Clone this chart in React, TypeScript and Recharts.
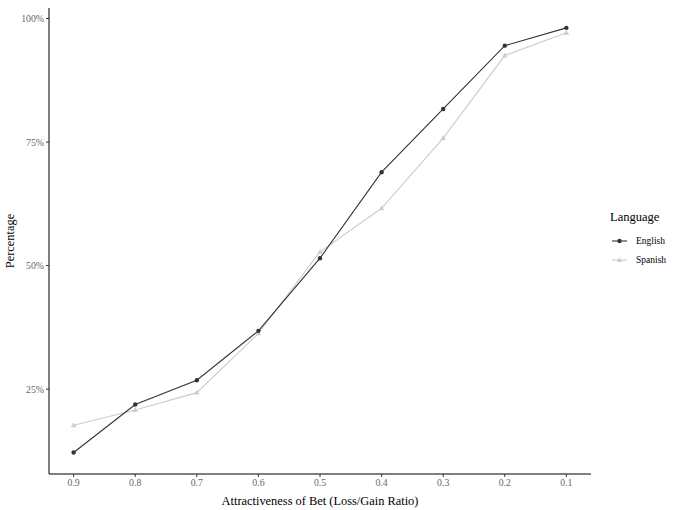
import React from "react";
import { CartesianGrid, Label, Legend, Line, LineChart, XAxis, YAxis } from "recharts";

// loss/gain ratio (reversed)
const ratios = [0.9, 0.8, 0.7, 0.6, 0.5, 0.4, 0.3, 0.2, 0.1];
const english = [12.2, 21.9, 26.8, 36.8, 51.5, 68.9, 81.7, 94.5, 98.1];
const spanish = [17.7, 20.8, 24.3, 36.3, 52.8, 61.6, 75.8, 92.5, 97.1];
const yTicks = [25, 50, 75, 100];

const series = [
  { key: "English", color: "#333333", shape: "circle" },
  { key: "Spanish", color: "#CCCCCC", shape: "triangle" },
];

const data = ratios.map((r, i) => ({
  ratio: r,
  English: english[i],
  Spanish: spanish[i],
}));

const FONT = '"Liberation Serif", "Times New Roman", serif';

const CircleDot = (props: any) => {
  const { cx, cy, stroke } = props;
  if (cx == null || cy == null) return null;
  return <circle cx={cx} cy={cy} r={2.2} fill={stroke} stroke="none" />;
};

const TriangleDot = (props: any) => {
  const { cx, cy, stroke } = props;
  if (cx == null || cy == null) return null;
  const s = 2.8;
  const pts = `${cx},${cy - s} ${cx - s},${cy + s * 0.7} ${cx + s},${cy + s * 0.7}`;
  return <polygon points={pts} fill={stroke} stroke="none" />;
};

const renderLegend = () => (
  <div style={{ fontFamily: FONT, color: "#000" }}>
    <div style={{ fontSize: 12.5, marginBottom: 6 }}>Language</div>
    {series.map((s) => (
      <div
        key={s.key}
        style={{ display: "flex", alignItems: "center", height: 19, fontSize: 9.5 }}
      >
        <svg width={20} height={12} style={{ marginRight: 6 }}>
          <line x1={2} y1={6} x2={17} y2={6} stroke={s.color} strokeWidth={1.1} />
          {s.shape === "circle" ? (
            <circle cx={9.5} cy={6} r={2.2} fill={s.color} />
          ) : (
            <polygon points="9.5,3.2 6.7,8 12.3,8" fill={s.color} />
          )}
        </svg>
        <span>{s.key}</span>
      </div>
    ))}
  </div>
);

export default function App() {
  return (
    <div style={{ position: "absolute", left: 0, top: 0, background: "#fff" }}>
      <LineChart
        width={680}
        height={510}
        data={data}
        margin={{ top: 8, right: 89, bottom: 0, left: 0 }}
      >
        <CartesianGrid stroke="none" fill="#fff" />
        <XAxis
          dataKey="ratio"
          type="number"
          domain={[0.06, 0.94]}
          reversed
          ticks={ratios}
          tickFormatter={(v: number) => v.toFixed(1)}
          height={36}
          stroke="#000"
          tickLine={{ stroke: "#333" }}
          tickSize={3}
          tick={{ fill: "#666666", fontSize: 9.8, fontFamily: FONT }}
          allowDataOverflow
        >
          <Label
            value="Attractiveness of Bet (Loss/Gain Ratio)"
            position="insideBottom"
            offset={5}
            style={{ fill: "#000", fontSize: 12.4, fontFamily: FONT }}
          />
        </XAxis>
        <YAxis
          type="number"
          domain={[7.84, 102.12]}
          ticks={yTicks}
          tickFormatter={(v: number) => `${v}%`}
          width={49}
          stroke="#000"
          tickLine={{ stroke: "#333" }}
          tickSize={3}
          tick={{ fill: "#666666", fontSize: 9.8, fontFamily: FONT }}
          allowDataOverflow
        >
          <Label
            value="Percentage"
            angle={-90}
            position="insideLeft"
            offset={10}
            style={{ fill: "#000", fontSize: 12.4, fontFamily: FONT, textAnchor: "middle" }}
          />
        </YAxis>
        <Legend
          layout="horizontal"
          verticalAlign="middle"
          content={renderLegend}
          wrapperStyle={{ position: "absolute", left: 610, top: 210, width: 70 }}
        />
        <Line
          dataKey="Spanish"
          stroke="#CCCCCC"
          strokeWidth={1.1}
          dot={<TriangleDot />}
          activeDot={false}
          isAnimationActive={false}
        />
        <Line
          dataKey="English"
          stroke="#333333"
          strokeWidth={1.1}
          dot={<CircleDot />}
          activeDot={false}
          isAnimationActive={false}
        />
      </LineChart>
    </div>
  );
}
